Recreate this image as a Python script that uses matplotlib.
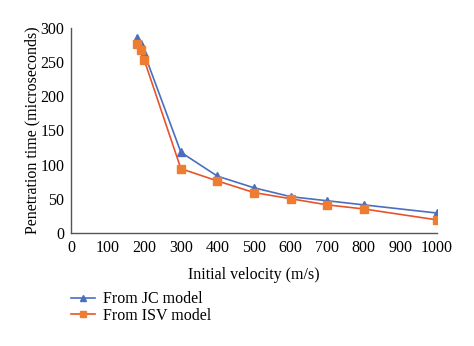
import matplotlib
matplotlib.use("Agg")
import matplotlib.pyplot as plt

plt.rcParams['font.family'] = ['Liberation Serif', 'DejaVu Serif']

velocity = [180, 190, 200, 300, 400, 500, 600, 700, 800, 1000]
jc_time = [285, 276, 263, 118, 83, 66, 53, 47, 41, 29]
isv_time = [277, 268, 253, 94, 76, 59, 50, 41, 35, 19]

fig = plt.figure(figsize=(4.74, 3.46), dpi=100)
ax = fig.add_axes([0.150, 0.327, 0.772, 0.592])

jc_line, = ax.plot(velocity, jc_time, color="#4a6fbf", marker="^", markersize=6,
                   linewidth=1.2, label="From JC model")
isv_line, = ax.plot(velocity, isv_time, color="#e8542a", marker="s", markersize=6,
                    markerfacecolor="#ee7d32", markeredgecolor="#ee7d32",
                    linewidth=1.2, label="From ISV model")

ax.set_xlim(0, 1000)
ax.set_ylim(0, 300)
ax.set_xticks(range(0, 1001, 100))
ax.set_yticks(range(0, 301, 50))
ax.spines["top"].set_visible(False)
ax.spines["right"].set_visible(False)
for s in ("left", "bottom"):
    ax.spines[s].set_color("#555555")
    ax.spines[s].set_linewidth(1.0)
ax.tick_params(length=0, labelsize=11.5, pad=5)
ax.set_xlabel("Initial velocity (m/s)", fontsize=11.5, labelpad=8)
ax.set_ylabel("Penetration time (microseconds)", fontsize=11.5, labelpad=0)

fig.legend(handles=[jc_line, isv_line], loc="upper left",
           bbox_to_anchor=(0.12, 0.2), frameon=False, fontsize=11.5,
           handlelength=1.5, labelspacing=0.05, handletextpad=0.5,
           markerscale=0.8)

fig.savefig("out.png", dpi=100)
